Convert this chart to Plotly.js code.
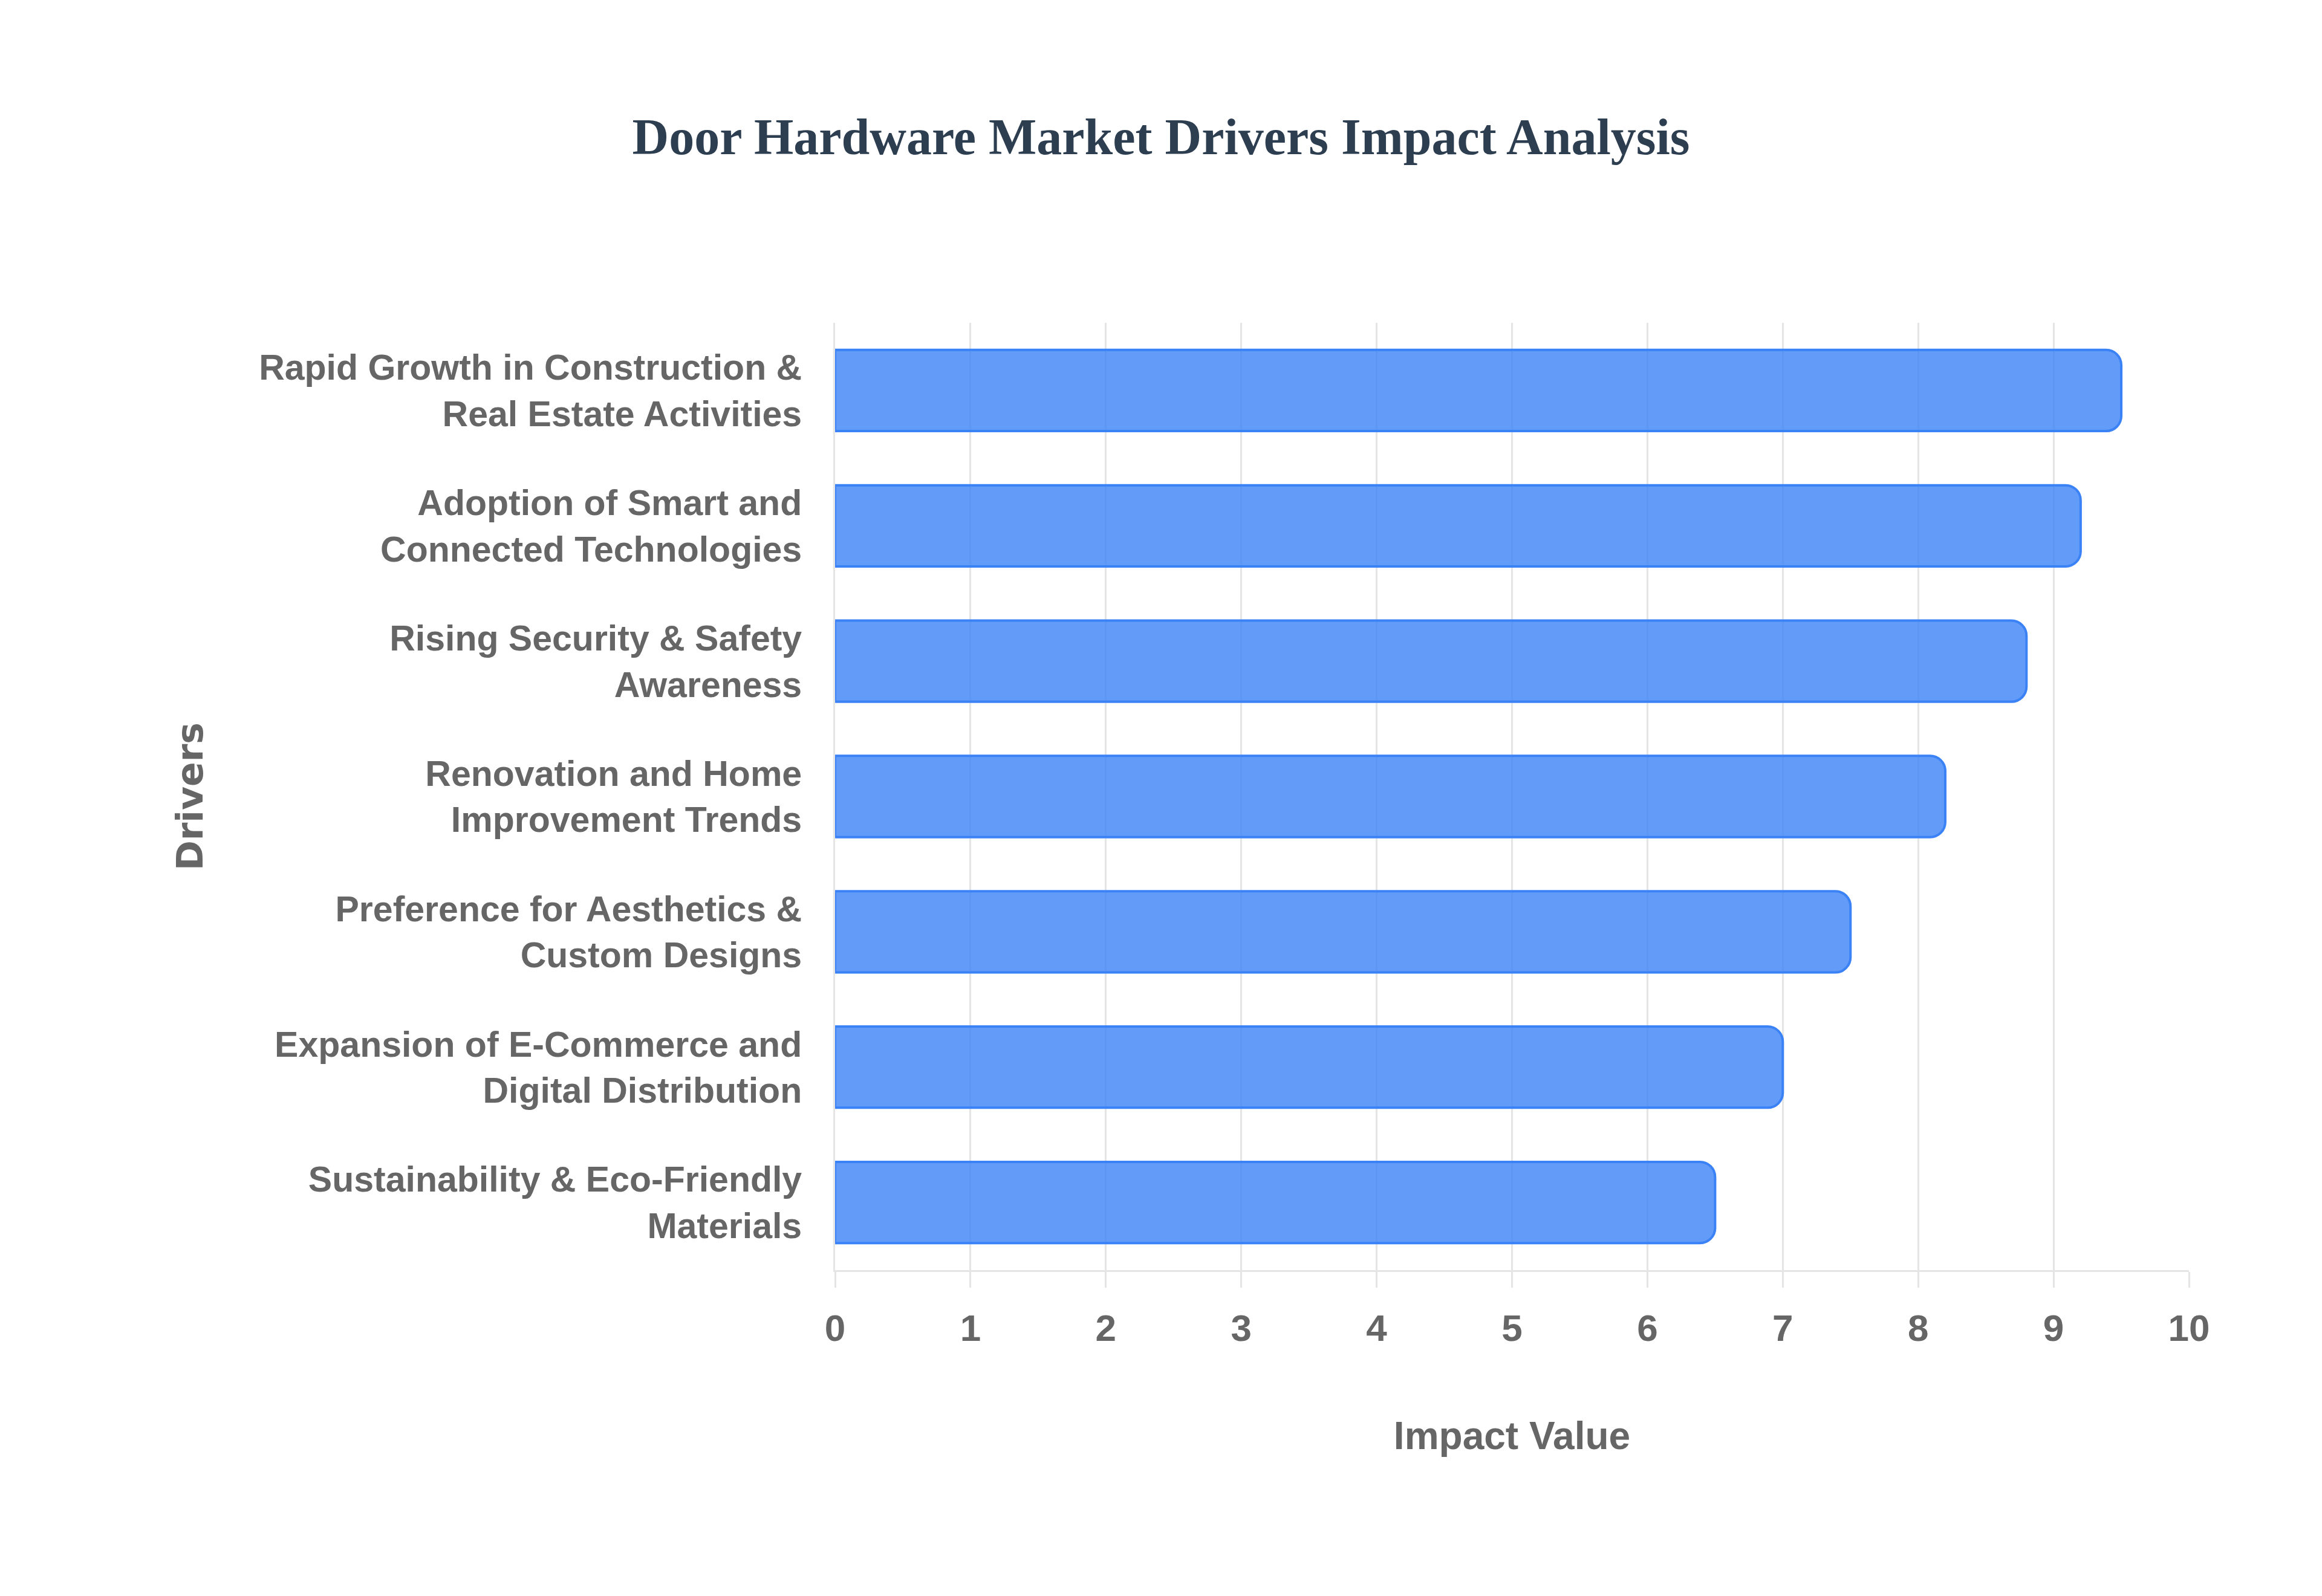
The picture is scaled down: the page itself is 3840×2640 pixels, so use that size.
<!DOCTYPE html>
<html>
<head>
<meta charset="utf-8">
<script src="https://cdn.plot.ly/plotly-3.0.1.min.js"></script>
<style>
  html, body { margin: 0; padding: 0; background: #fff; }
  #chart { width: 3840px; height: 2640px; }
</style>
</head>
<body>
<div id="chart"></div>
<script>
// drivers, top to bottom as shown
var drivers = [
  'Rapid Growth in Construction &<br>Real Estate Activities',
  'Adoption of Smart and<br>Connected Technologies',
  'Rising Security & Safety<br>Awareness',
  'Renovation and Home<br>Improvement Trends',
  'Preference for Aesthetics &<br>Custom Designs',
  'Expansion of E-Commerce and<br>Digital Distribution',
  'Sustainability & Eco-Friendly<br>Materials'
];
var impact = [9.5, 9.2, 8.8, 8.2, 7.5, 7.0, 6.5];
var xTicks = [0, 1, 2, 3, 4, 5, 6, 7, 8, 9, 10];

var grid = 'rgba(0,0,0,0.1)';
var tickFont = { family: 'Liberation Sans, Arial, sans-serif', size: 59, color: '#666666', weight: 'bold' };

var trace = {
  type: 'bar',
  orientation: 'h',
  x: impact,
  y: drivers,
  marker: {
    color: 'rgba(59,130,246,0.8)',
    line: { color: '#3b82f6', width: 4 },
    cornerradius: 25
  },
  hoverinfo: 'x+y'
};

var layout = {
  width: 3840,
  height: 2640,
  paper_bgcolor: '#ffffff',
  plot_bgcolor: '#ffffff',
  margin: { l: 1381, r: 220, t: 534, b: 539 },
  bargap: 0.4,
  showlegend: false,
  title: {
    text: '<b>Door Hardware Market Drivers Impact Analysis</b>',
    font: { family: 'Liberation Serif, Times New Roman, serif', size: 84, color: '#2c3e50' },
    x: 0.5,
    xanchor: 'center',
    y: 1 - 226 / 2640,
    yanchor: 'middle',
    yref: 'container'
  },
  xaxis: {
    range: [0, 10],
    tickvals: xTicks,
    ticktext: xTicks.map(String),
    tickfont: { family: 'Liberation Sans, Arial, sans-serif', size: 62, color: '#666666', weight: 'bold' },
    showgrid: true,
    gridcolor: grid,
    gridwidth: 3,
    zeroline: false,
    showline: true,
    linecolor: grid,
    linewidth: 3,
    ticks: 'outside',
    ticklen: 26,
    tickwidth: 3,
    tickcolor: grid,
    ticklabelstandoff: 14,
    title: {
      text: '<b>Impact Value</b>',
      font: { family: 'Liberation Sans, Arial, sans-serif', size: 64, color: '#666666' },
      standoff: 122
    }
  },
  yaxis: {
    autorange: 'reversed',
    tickfont: tickFont,
    showgrid: false,
    zeroline: false,
    showline: true,
    linecolor: grid,
    linewidth: 3,
    ticks: '',
    ticklabelstandoff: 40,
    title: {
      text: '<b>Drivers</b>',
      font: { family: 'DejaVu Sans, Verdana, sans-serif', size: 60, color: '#666666' },
      standoff: 74
    }
  }
};

Plotly.newPlot('chart', [trace], layout, { displayModeBar: false, responsive: false });
</script>
</body>
</html>
